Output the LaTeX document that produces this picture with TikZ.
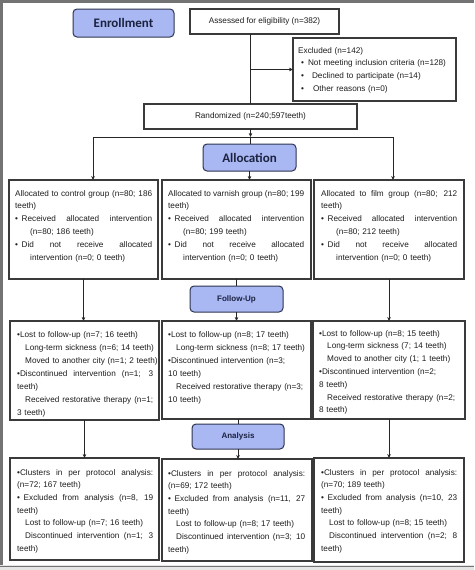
\documentclass[tikz,border=0pt]{standalone}
\usepackage{fontspec}
\setmainfont{Liberation Sans}
\newfontfamily\calib{Carlito}
\usetikzlibrary{arrows.meta,calc}
\definecolor{hdrfill}{HTML}{A9B7F2}
\definecolor{hdrdraw}{HTML}{2E3450}
\definecolor{hdrtext}{HTML}{1B2240}
\definecolor{boxdraw}{HTML}{3A3A3A}
\definecolor{txt}{HTML}{1E1E1E}
\newlength\myBw
\newcommand\myJl[1]{\leavevmode\hbox to \myBw{\spaceskip=0.25em plus 1fil\relax #1}}
\newcommand\myIJl[1]{\leavevmode\hspace*{8pt}\hbox to \dimexpr\myBw-8pt\relax{\spaceskip=0.25em plus 1fil\relax #1}}
\newcommand\myInd{\leavevmode\hspace*{8pt}}
\newcommand\myBJl[1]{\leavevmode\hbox to 6.5pt{•\hss}\hbox to \dimexpr\myBw-6.5pt\relax{\spaceskip=0.25em plus 1fil\relax #1}}
\newcommand\myCInd{\leavevmode\hspace*{15pt}}
\begin{document}
\begin{tikzpicture}[x=1pt,y=-1pt,
  box/.style={draw=boxdraw, line width=1.1pt, fill=white, inner sep=0pt, outer sep=0pt, anchor=north west},
  hdr/.style={draw=hdrdraw, line width=1pt, fill=hdrfill, rounded corners=4pt, inner sep=0pt, outer sep=0pt, anchor=north west, text=hdrtext},
  body/.style={anchor=north west, inner sep=0pt, align=left, text=txt, text width=170pt,
    font=\fontsize{8.2}{12.8}\selectfont},
  conn/.style={draw=black!85, line width=0.9pt},
  arr/.style={conn, -{Stealth[length=4pt,width=3.6pt]}}]
\useasboundingbox (0,0) rectangle (474,570);
% frame
\fill[black!55] (0,0) rectangle (474,2.5);
\fill[black!55] (0,0) rectangle (2.5,570);
\fill[black!10] (0,565) rectangle (474,570);
\draw[black!55, line width=1pt] (0,566) -- (474,566);

% header boxes
\node[hdr, minimum width=101pt, minimum height=28pt, font=\calib\bfseries\fontsize{13}{15}\selectfont] (enroll) at (73,9) {Enrollment};
\node[hdr, minimum width=93pt, minimum height=27pt, font=\calib\bfseries\fontsize{13}{15}\selectfont] (alloc) at (203,144) {Allocation};
\node[hdr, minimum width=93pt, minimum height=26pt, font=\bfseries\fontsize{8}{10}\selectfont] (fu) at (190,286) {Follow-Up};
\node[hdr, minimum width=92pt, minimum height=25pt, font=\bfseries\fontsize{8}{10}\selectfont] (an) at (192,424) {Analysis};

% plain boxes
\node[box, minimum width=149pt, minimum height=25pt, text=txt, font=\fontsize{8.2}{10}\selectfont] (assess) at (190,9) {Assessed for eligibility (n=382)};
\node[box, minimum width=163pt, minimum height=63pt] (excl) at (293,38) {};
\node[box, minimum width=213pt, minimum height=25pt, text=txt, font=\fontsize{8.2}{10}\selectfont] (rand) at (144,104) {Randomized (n=240;597teeth)};

\node[box, minimum width=149pt, minimum height=99pt] (ac) at (9,180) {};
\node[box, minimum width=149pt, minimum height=99pt] (av) at (162,180) {};
\node[box, minimum width=150pt, minimum height=99pt] (af) at (314,180) {};

\node[box, minimum width=149pt, minimum height=99pt] (fc) at (10,321) {};
\node[box, minimum width=149pt, minimum height=98pt] (fv) at (162,321) {};
\node[box, minimum width=152pt, minimum height=98pt] (ff) at (313,321) {};

\node[box, minimum width=149pt, minimum height=102pt] (nc) at (10,458) {};
\node[box, minimum width=150pt, minimum height=102pt] (nv) at (162,459) {};
\node[box, minimum width=150pt, minimum height=104pt] (nf) at (314,458) {};

% texts
\node[body, font=\fontsize{8.2}{12.7}\selectfont] (exclt) at (298,47) {Excluded (n=142)\\
\hspace*{3pt}•\hspace*{4pt}Not meeting inclusion criteria (n=128)\\
\hspace*{3pt}•\hspace*{8pt}Declined to participate (n=14)\\
\hspace*{3pt}•\hspace*{9pt}Other reasons (n=0)};

\node[body] (act) at (15,190) {\setlength{\myBw}{137pt}\myJl{Allocated to control group (n=80; 186}\\
teeth)\\
\myBJl{Received allocated intervention}\\
\myCInd(n=80; 186 teeth)\\
\myBJl{Did not receive allocated}\\
\myCInd intervention (n=0; 0 teeth)};

\node[body] (avt) at (168,190) {\setlength{\myBw}{136pt}\myJl{Allocated to varnish group (n=80; 199}\\
teeth)\\
\myBJl{Received allocated intervention}\\
\myCInd(n=80; 199 teeth)\\
\myBJl{Did not receive allocated}\\
\myCInd intervention (n=0; 0 teeth)};

\node[body] (aft) at (321,190) {\setlength{\myBw}{136pt}\myJl{Allocated to film group (n=80; 212}\\
teeth)\\
\myBJl{Received allocated intervention}\\
\myCInd(n=80; 212 teeth)\\
\myBJl{Did not receive allocated}\\
\myCInd intervention (n=0; 0 teeth)};

\node[body, font=\fontsize{8.2}{13}\selectfont] (fct) at (17,331) {\setlength{\myBw}{136pt}•Lost to follow-up (n=7; 16 teeth)\\
\myInd Long-term sickness (n=6; 14 teeth)\\
\myInd Moved to another city (n=1; 2 teeth)\\
\myJl{•Discontinued intervention (n=1; 3}\\
teeth)\\
\myIJl{Received restorative therapy (n=1;}\\
3 teeth)};

\node[body, font=\fontsize{8.2}{13}\selectfont] (fvt) at (168,331) {\setlength{\myBw}{135pt}•Lost to follow-up (n=8; 17 teeth)\\
\myInd Long-term sickness (n=8; 17 teeth)\\
•Discontinued intervention (n=3;\\
10 teeth)\\
\myIJl{Received restorative therapy (n=3;}\\
10 teeth)};

\node[body] (fft) at (319,330) {\setlength{\myBw}{136pt}•Lost to follow-up (n=8; 15 teeth)\\
\myInd Long-term sickness (7; 14 teeth)\\
\myInd Moved to another city (1; 1 teeth)\\
•Discontinued intervention (n=2;\\
8 teeth)\\
\myIJl{Received restorative therapy (n=2;}\\
8 teeth)};

\node[body, font=\fontsize{8.2}{12.7}\selectfont] (nct) at (17,469) {\setlength{\myBw}{136pt}\myJl{•Clusters in per protocol analysis:}\\
(n=72; 167 teeth)\\
\myBJl{Excluded from analysis (n=8, 19}\\
teeth)\\
\myInd Lost to follow-up (n=7; 16 teeth)\\
\myIJl{Discontinued intervention (n=1; 3}\\
teeth)};

\node[body, font=\fontsize{8.2}{12.7}\selectfont] (nvt) at (168,470) {\setlength{\myBw}{137pt}\myJl{•Clusters in per protocol analysis:}\\
(n=69; 172 teeth)\\
\myBJl{Excluded from analysis (n=11, 27}\\
teeth)\\
\myInd Lost to follow-up (n=8; 17 teeth)\\
\myIJl{Discontinued intervention (n=3; 10}\\
teeth)};

\node[body, font=\fontsize{8.2}{12.7}\selectfont] (nft) at (321,469) {\setlength{\myBw}{136pt}\myJl{•Clusters in per protocol analysis:}\\
(n=70; 189 teeth)\\
\myBJl{Excluded from analysis (n=10, 23}\\
teeth)\\
\myInd Lost to follow-up (n=8; 15 teeth)\\
\myIJl{Discontinued intervention (n=2; 8}\\
teeth)};

% connectors
\draw[conn] (rand.north |- assess.south) -- (rand.north);
\draw[arr] (rand.north |- excl.west) -- (excl.west);
\coordinate (hm) at (250.5,137);
\coordinate (hl) at (93,137);
\coordinate (hr) at (393,137);
\draw[arr] (rand.south) -- (hm);
\draw[conn] (hl) -- (hr);
\draw[arr] (hl) -- (hl |- ac.north);
\draw[arr] (hr) -- (hr |- af.north);
\draw[conn] (hm) -- (hm |- alloc.north);
\draw[arr] (alloc.south) -- (alloc.south |- av.north);

\draw[arr] (ac.south) -- (ac.south |- fc.north);
\draw[conn] (av.south) -- (av.south |- fu.north);
\draw[arr] (fu.south) -- (fu.south |- fv.north);
\draw[arr] (af.south) -- (af.south |- ff.north);

\draw[arr] (fc.south) -- (fc.south |- nc.north);
\draw[conn] (an.north |- fv.south) -- (an.north);
\draw[arr] (an.south) -- (an.south |- nv.north);
\draw[arr] (ff.south) -- (ff.south |- nf.north);
\end{tikzpicture}
\end{document}
